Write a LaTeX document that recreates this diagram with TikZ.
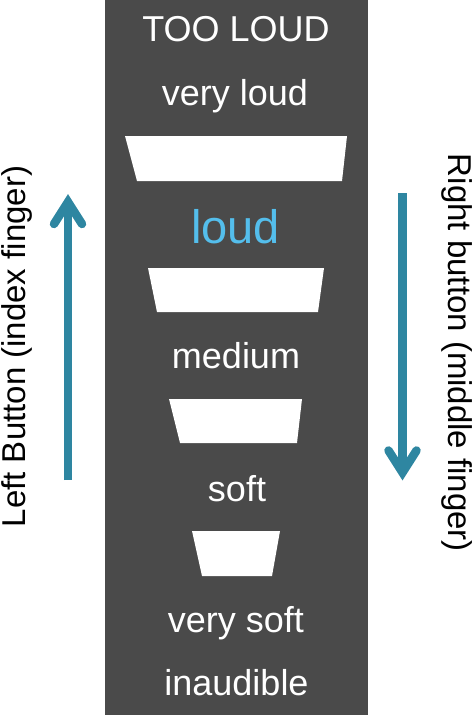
\documentclass[tikz,border=0pt]{standalone}
\usepackage{fontspec}
\setmainfont{Liberation Sans}
\definecolor{panelgray}{RGB}{74,74,74}
\definecolor{loudblue}{RGB}{84,190,236}
\definecolor{teal}{RGB}{46,134,161}
\tikzset{
  level/.style={text=white, anchor=base, inner sep=0pt, font=\fontsize{36}{40}\selectfont},
  hilite/.style={text=loudblue, anchor=base, inner sep=0pt, font=\fontsize{47}{52}\selectfont},
  side/.style={text=black, anchor=base, inner sep=0pt, font=\fontsize{33}{38}\selectfont},
  shaft/.style={draw=teal, line width=8.5pt, line cap=butt},
  barb/.style={draw=teal, line width=8.5pt, line cap=round, line join=miter},
  wedge/.style={fill=white}
}
\begin{document}
\begin{tikzpicture}[x=1pt,y=-1pt]
\useasboundingbox (0,0) rectangle (474,715);
\fill[white] (0,0) rectangle (474,715);
\fill[panelgray] (105,0) rectangle (368,715);
% level labels
\node[level] (tooloud) at (236,41) {TOO LOUD};
\node[level] (veryloud) at (235,105) {very loud};
\node[hilite] (loud) at (235.5,243) {loud};
\node[level] (medium) at (236,368) {medium};
\node[level] (soft) at (237,501) {soft};
\node[level] (verysoft) at (236,632) {very soft};
\node[level] (inaudible) at (236.5,695) {inaudible};
% trapezoids
\fill[wedge] (125,136) -- (347,136) -- (342,181) -- (137,181) -- cycle;
\fill[wedge] (148,268) -- (324,268) -- (318,312) -- (157,312) -- cycle;
\fill[wedge] (169,399) -- (302,399) -- (297,443) -- (180,443) -- cycle;
\fill[wedge] (192,531) -- (280,531) -- (272,576) -- (202,576) -- cycle;
% left arrow (up)
\coordinate (lbot) at (68,480);
\coordinate (ltip) at (68,202);
\coordinate (lwl) at (54,224);
\coordinate (lwr) at (82,224);
\draw[shaft] (lbot) -- (ltip);
\draw[barb] (lwl) -- (ltip) -- (lwr);
% right arrow (down)
\coordinate (rtop) at (402.5,193);
\coordinate (rtip) at (402.5,472.5);
\coordinate (rwl) at (388.5,450.5);
\coordinate (rwr) at (416.5,450.5);
\draw[shaft] (rtop) -- (rtip);
\draw[barb] (rwl) -- (rtip) -- (rwr);
% side labels
\node[side, rotate=90] (lefttxt) at (25,346.5) {Left Button (index finger)};
\node[side, rotate=-90] (righttxt) at (448,353) {Right button (middle finger)};
\end{tikzpicture}
\end{document}
